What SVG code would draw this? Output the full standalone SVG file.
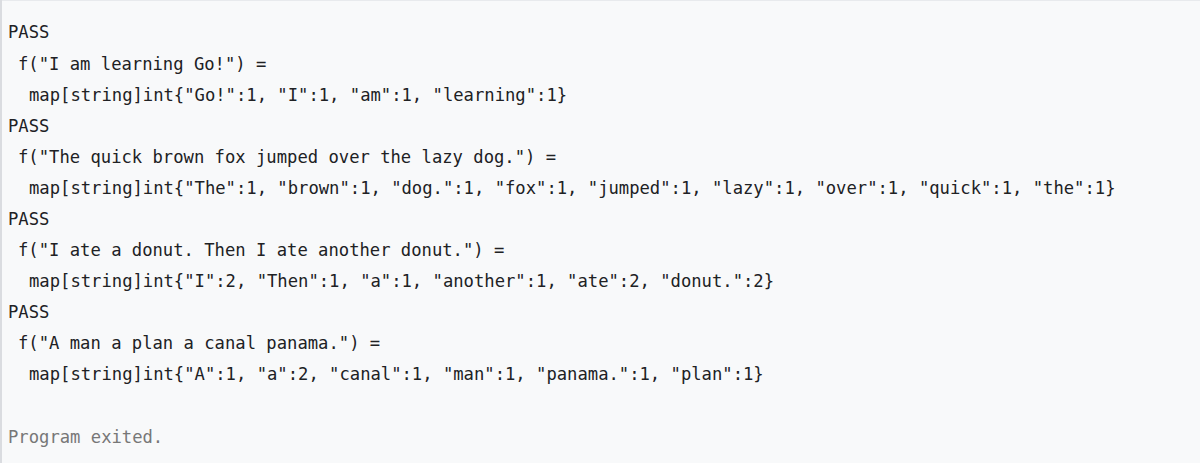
<svg xmlns="http://www.w3.org/2000/svg" width="1200" height="463" viewBox="0 0 1200 463">
<style>
text{font-family:"DejaVu Sans Mono","Liberation Mono",monospace;font-size:17.2px;fill:#202124;white-space:pre}
.g{fill:#777}
</style>
<rect width="1200" height="463" fill="#f8f9fa"/>
<rect x="0" y="0" width="1200" height="1" fill="#e8eaed"/>
<rect x="0" y="0" width="2" height="463" fill="#dadce0"/>
<g id="output">
<text x="8" y="38">PASS</text>
<text x="18" y="70">f("I am learning Go!") =</text>
<text x="29" y="101">map[string]int{"Go!":1, "I":1, "am":1, "learning":1}</text>
<text x="8" y="132">PASS</text>
<text x="18" y="163">f("The quick brown fox jumped over the lazy dog.") =</text>
<text x="29" y="194">map[string]int{"The":1, "brown":1, "dog.":1, "fox":1, "jumped":1, "lazy":1, "over":1, "quick":1, "the":1}</text>
<text x="8" y="225">PASS</text>
<text x="18" y="256">f("I ate a donut. Then I ate another donut.") =</text>
<text x="29" y="287">map[string]int{"I":2, "Then":1, "a":1, "another":1, "ate":2, "donut.":2}</text>
<text x="8" y="318">PASS</text>
<text x="18" y="349">f("A man a plan a canal panama.") =</text>
<text x="29" y="380">map[string]int{"A":1, "a":2, "canal":1, "man":1, "panama.":1, "plan":1}</text>
<text class="g" x="8" y="443">Program exited.</text>
</g>
</svg>
